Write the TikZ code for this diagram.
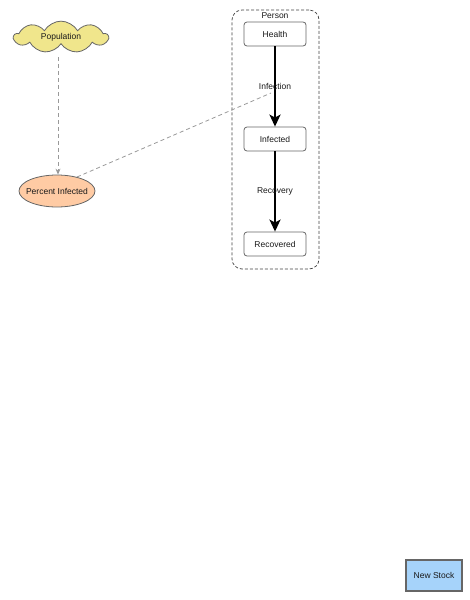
\documentclass[tikz,border=0pt]{standalone}
\usepackage{fontspec}
\setmainfont{Liberation Sans}
\usetikzlibrary{shapes.symbols,shapes.geometric,arrows.meta}
\definecolor{popfill}{HTML}{F0E68C}
\definecolor{pctfill}{HTML}{FFCBA4}
\definecolor{stockfill}{HTML}{A6D3FA}
\definecolor{edgegray}{HTML}{666666}
\definecolor{dashgray}{HTML}{999999}
\tikzset{
  every node/.style={font=\fontsize{8.5}{10}\selectfont, text=black!90},
  stockbox/.style={draw=edgegray, rounded corners=3pt, fill=white, minimum width=62pt, minimum height=24pt, inner sep=0pt, line width=0.8pt},
  flowarrow/.style={line width=2.2pt, -{Stealth[length=12pt,width=11pt,inset=3pt]}},
  linkline/.style={dashgray, dashed, line width=0.8pt, dash pattern=on 4pt off 3pt},
  flowlabel/.style={inner sep=1pt}
}
\begin{document}
\begin{tikzpicture}[x=1pt,y=-1pt]
\useasboundingbox (0,0) rectangle (469,600);
% container
\node[draw=black!75, dashed, dash pattern=on 3pt off 2pt, rounded corners=10pt, minimum width=87pt, minimum height=259pt, line width=0.7pt] (person) at (275.5,139.5) {};
\node[inner sep=0pt] (personlabel) at (275,16) {Person};
% stocks
\node[stockbox] (health) at (275,34) {Health};
\node[stockbox] (infected) at (275,139) {Infected};
\node[stockbox] (recovered) at (275,244) {Recovered};
% flows
\draw[flowarrow] (health) -- node[flowlabel] (infection) {Infection} (infected);
\draw[flowarrow] (infected) -- node[flowlabel] (recovery) {Recovery} (recovered);
\coordinate (linkend) at (271,93);
% variables
\node[cloud, cloud puffs=9, cloud puff arc=120, aspect=2.6, draw=edgegray, fill=popfill, minimum width=94pt, minimum height=30pt, inner sep=0pt, line width=0.8pt] (population) at (61,37) {Population};
\node[ellipse, draw=edgegray, fill=pctfill, minimum width=76pt, minimum height=32pt, inner sep=0pt, line width=0.8pt] (percent) at (57,191) {};
\node[inner sep=0pt] (percenttext) at (percent.center) {Percent Infected};
% links
\draw[linkline, -{Stealth[length=6pt,width=5pt]}] (58,57) coordinate (popbot) -- (percent.north -| popbot);
\draw[linkline] (percent.35) -- (linkend);
% new stock
\node[draw=edgegray, fill=stockfill, minimum width=56pt, minimum height=31pt, line width=1.2pt, inner sep=0pt] (newstock) at (434,575.5) {New Stock};
\end{tikzpicture}
\end{document}
